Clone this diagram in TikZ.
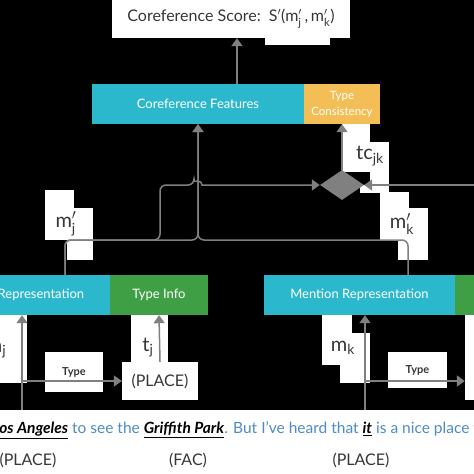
\documentclass[tikz,border=0pt]{standalone}
\usepackage{fontspec}
\setmainfont{Lato}
\usepackage{amsmath}
\usetikzlibrary{arrows.meta,shapes.geometric}

\definecolor{featcyan}{RGB}{43,184,204}
\definecolor{typeyellow}{RGB}{242,190,85}
\definecolor{typegreen}{RGB}{62,159,69}
\definecolor{linegray}{RGB}{128,128,128}
\definecolor{darktext}{RGB}{55,55,55}
\definecolor{sentblue}{RGB}{78,140,196}

\begin{document}
\begin{tikzpicture}[x=1pt,y=-1pt,
    featbox/.style={minimum height=40pt, inner sep=0pt, text=white, font=\fontsize{13}{15}\selectfont},
    flow/.style={draw=linegray, line width=1.5pt, -{Triangle[width=11pt,length=8pt]}},
    vec/.style={text=darktext, inner sep=0pt, font=\fontsize{20}{22}\selectfont},
    typelbl/.style={fill=white, text=darktext, inner sep=0pt, font=\fontsize{11}{13}\selectfont\bfseries},
    tagbox/.style={fill=white, text=darktext, inner sep=0pt, minimum width=76pt, minimum height=38pt, font=\fontsize{16}{18}\selectfont},
    tag/.style={text=darktext, inner sep=0pt, font=\fontsize{16}{18}\selectfont}]
    % Frame
    \useasboundingbox (0,0) rectangle (474,474);
    \clip (0,0) rectangle (474,474);
    \fill[black] (0,0) rectangle (474,474);
    \fill[white] (0,410) rectangle (474,474);

    % White patches behind the labels
    \fill[white] (265,38) rectangle (330,45);
    \fill[white] (342,124) rectangle (370,172);
    \fill[white] (370,142) rectangle (389,186);
    \fill[white] (360,185) rectangle (389,193);
    \fill[white] (380,192) rectangle (409,240);
    \fill[white] (409,208) rectangle (428,240);
    \fill[white] (398,240) rectangle (428,260);
    \fill[white] (45,190) rectangle (74,240);
    \fill[white] (74,208) rectangle (93,240);
    \fill[white] (67,240) rectangle (93,260);
    \fill[white] (0,315) rectangle (27,383);
    \fill[white] (131,315) rectangle (168,362);
    \fill[white] (322,315) rectangle (352,365);
    \fill[white] (340,333) rectangle (370,383);
    \fill[white] (465,315) rectangle (474,362);

    % Score and features
    \node[fill=white, text=darktext, inner sep=0pt, minimum width=238pt, minimum height=38pt,
          font=\fontsize{16}{18}\selectfont] (score) at (231,19)
          {Coreference Score:\ \ S$'$(m$'_{\text{j}}$\,,\,m$'_{\text{k}}$)};
    \node[featbox, fill=featcyan, minimum width=212pt] (cf) at (198,104) {Coreference Features};
    \node[featbox, fill=typeyellow, minimum width=76pt, align=center,
          font=\fontsize{11.5}{16}\selectfont] (tc) at (342,104) {Type\\Consistency};
    \node[diamond, fill=linegray, minimum width=44pt, minimum height=30pt, inner sep=0pt] (cmp) at (342,185) {};

    % Mention blocks
    \node[featbox, fill=featcyan, minimum width=190pt] (mrj) at (15,295) {Mention Representation};
    \node[featbox, fill=typegreen, minimum width=98pt] (tij) at (159,295) {Type Info};
    \node[featbox, fill=featcyan, minimum width=191pt] (mrk) at (359.5,295) {Mention Representation};
    \node[featbox, fill=typegreen, minimum width=100pt] (tik) at (505,295) {};
    \node[tagbox] (plj) at (160,381) {(PLACE)};
    \node[tagbox] (plk) at (503,381) {};

    % Connectors
    \coordinate (mj) at (65,275);
    \coordinate (mk) at (408,275);
    \coordinate (join) at (198,240);
    \coordinate (split) at (160,240);
    \coordinate (bend) at (160,185);
    \coordinate (sidein) at (474,185);
    \coordinate (srcj) at (22,410);
    \coordinate (srck) at (365,410);
    \draw[flow] ([xshift=39pt]cf.north) -- ([xshift=39pt]cf.north |- score.south);
    \draw[flow, rounded corners=6pt] (mj) |- (join) -- (cf.south);
    \draw[flow, rounded corners=6pt] (mk) |- (join) -- (cf.south);
    \draw[flow, rounded corners=6pt] (mj) |- (split) -- (bend) -- (194,185)
        [sharp corners] arc[start angle=180, end angle=0, radius=4pt] -- (cmp.west);
    \draw[flow] (sidein) -- (cmp.east);
    \draw[flow] (cmp.north) -- (tc.south);
    \draw[flow] (srcj) -- (srcj |- mrj.south);
    \draw[flow] (plj.north) -- (tij.south);
    \draw[flow] (srck) -- (srck |- mrk.south);

    % Labels
    \node[vec] (tcjk) at (370,156) {$\text{tc}_{\text{jk}}$};
    \node[vec] (mjp) at (66,224) {$\text{m}'_{\text{j}}$};
    \node[vec] (mkp) at (402,224) {$\text{m}'_{\text{k}}$};
    \node[vec] (mjv) at (-4,350) {$\text{m}_{\text{j}}$};
    \node[vec] (tjv) at (148,348) {$\text{t}_{\text{j}}$};
    \node[vec] (mkv) at (343,348) {$\text{m}_{\text{k}}$};
    \node[typelbl, minimum width=58pt, minimum height=40pt] (typej) at (74,372) {Type};
    \node[typelbl, minimum width=59pt, minimum height=36pt] (typek) at (417.5,370) {Type};
    \draw[flow] (srcj |- plj.west) -- (plj.west);
    \draw[flow] (srck |- plk.west) -- (plk.west);

    % Sentence
    \node[anchor=base west, inner sep=0pt, text=sentblue, font=\fontsize{15.5}{17}\selectfont] (sentence) at (-8,433)
        {\textcolor{black}{\underline{\textbf{\textit{Los Angeles}}}} to see the
         \textcolor{black}{\underline{\textbf{\textit{Griffith Park}}}}. But I've heard that
         \textcolor{black}{\underline{\textbf{\textit{it}}}} is a nice place to visit};
    \node[tag] (tagla) at (28,460) {(PLACE)};
    \node[tag] (taggp) at (188,460) {(FAC)};
    \node[tag] (tagit) at (361,460) {(PLACE)};
\end{tikzpicture}
\end{document}
